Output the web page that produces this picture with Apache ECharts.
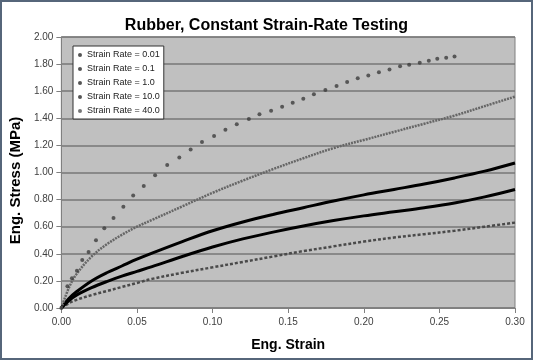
<!DOCTYPE html>
<html><head><meta charset="utf-8">
<script src="https://cdn.jsdelivr.net/npm/echarts@6/dist/echarts.min.js"></script>
<style>html,body{margin:0;padding:0;background:#fff}#c{width:533px;height:360px}</style>
</head><body><div id="c"></div>
<script>
const seriesNames = ['Strain Rate = 0.01','Strain Rate = 0.1','Strain Rate = 1.0','Strain Rate = 10.0','Strain Rate = 40.0'];
const strainGrid = [0,0.005,0.01,0.02,0.03,0.04,0.05,0.06,0.08,0.10,0.12,0.14,0.16,0.18,0.20,0.22,0.24,0.26,0.28,0.30];
const stress001 = [0,0.035,0.06,0.095,0.125,0.155,0.185,0.215,0.26,0.30,0.34,0.38,0.42,0.455,0.49,0.52,0.545,0.57,0.60,0.63];
const stress01  = [0,0.055,0.095,0.15,0.195,0.235,0.27,0.305,0.38,0.45,0.51,0.56,0.605,0.645,0.68,0.71,0.74,0.775,0.82,0.875];
const stress1   = [0,0.07,0.12,0.20,0.26,0.31,0.36,0.405,0.49,0.57,0.635,0.69,0.74,0.79,0.835,0.875,0.915,0.96,1.01,1.07];
const stress10  = [0,0.15,0.25,0.38,0.47,0.54,0.60,0.65,0.75,0.85,0.94,1.025,1.105,1.18,1.24,1.30,1.36,1.42,1.49,1.56];
const strain40 = [0,0.004,0.007,0.0103,0.0138,0.018,0.0229,0.0284,0.0345,0.041,0.0475,0.0545,0.062,0.070,0.078,0.0855,0.093,0.101,0.1085,0.116,0.124,0.131,0.1387,0.146,0.153,0.160,0.167,0.1746,0.182,0.189,0.196,0.203,0.210,0.217,0.224,0.230,0.237,0.243,0.2486,0.2545,0.260];
const stress40 = [0,0.16,0.22,0.275,0.354,0.413,0.50,0.588,0.664,0.748,0.83,0.90,0.98,1.055,1.11,1.17,1.225,1.27,1.316,1.356,1.395,1.43,1.456,1.485,1.515,1.545,1.577,1.609,1.638,1.668,1.695,1.715,1.74,1.76,1.784,1.795,1.81,1.825,1.84,1.846,1.857];
const xTicks = {min:0, max:0.30, interval:0.05};
const yTicks = {min:0, max:2.00, interval:0.20};

function pairs(xs, ys){ return xs.map((x,i)=>[x, ys[i]]); }
const chart = echarts.init(document.getElementById('c'), null, {renderer:'canvas'});
const FONT = 'Liberation Sans, Arial, sans-serif';
function lineSeries(name, ys, color, width, type){
  return {name, type:'line', data:pairs(strainGrid, ys), smooth:0.35,
    showSymbol:false, symbol:'circle', symbolSize:3, itemStyle:{color:color},
    lineStyle:{color, width, type}, animation:false, z:3};
}
chart.setOption({
  animation:false,
  backgroundColor:'#ffffff',
  graphic:[{type:'rect', shape:{x:1,y:1,width:531,height:358}, style:{fill:null, stroke:'#56667a', lineWidth:2}, z:100}],
  title:{text:'Rubber, Constant Strain-Rate Testing', left:'center', top:13,
    textStyle:{fontFamily:FONT, fontSize:16, fontWeight:'bold', color:'#000'}},
  grid:{left:60, right:18, top:37, bottom:52, show:true, backgroundColor:'#c0c0c0', borderColor:'#808080', borderWidth:1},
  legend:{orient:'vertical', left:73, top:46, padding:[4,4,3,5], itemGap:4, itemWidth:4, itemHeight:4,
    backgroundColor:'#ffffff', borderColor:'#333', borderWidth:1,
    textStyle:{fontFamily:FONT, fontSize:9, color:'#222', lineHeight:10},
    data:seriesNames.map(n=>({name:n, icon:'circle', itemStyle:{color:'#555'}}))},
  xAxis:{type:'value', min:xTicks.min, max:xTicks.max, interval:xTicks.interval,
    name:'Eng. Strain', nameLocation:'middle', nameGap:30,
    nameTextStyle:{fontFamily:FONT, fontSize:14, fontWeight:'bold', color:'#000'},
    axisLine:{lineStyle:{color:'#808080'}}, axisTick:{show:true, length:5, lineStyle:{color:'#808080'}},
    axisLabel:{fontFamily:FONT, fontSize:10, color:'#404040', margin:9, formatter:v=>v.toFixed(2)},
    splitLine:{show:false}},
  yAxis:{type:'value', min:yTicks.min, max:yTicks.max, interval:yTicks.interval,
    name:'Eng. Stress (MPa)', nameLocation:'middle', nameGap:32,
    nameTextStyle:{fontFamily:FONT, fontSize:15, fontWeight:'bold', color:'#000', padding:[0,16,0,0]},
    axisLine:{show:true, lineStyle:{color:'#808080'}}, axisTick:{show:true, length:5, lineStyle:{color:'#808080'}},
    axisLabel:{fontFamily:FONT, fontSize:10, color:'#404040', margin:8, formatter:v=>v.toFixed(2)},
    splitLine:{show:true, lineStyle:{color:'#777', width:1.5}}},
  series:[
    lineSeries(seriesNames[0], stress001, '#4a4a4a', 2.5, [3,2]),
    lineSeries(seriesNames[1], stress01, '#000000', 3, 'solid'),
    lineSeries(seriesNames[2], stress1, '#000000', 3, 'solid'),
    lineSeries(seriesNames[3], stress10, '#666666', 2.5, [2,1]),
    {name:seriesNames[4], type:'scatter', data:pairs(strain40, stress40), symbol:'circle', symbolSize:4,
     itemStyle:{color:'#3c3c3c'}, z:4}
  ]
});
</script></body></html>
